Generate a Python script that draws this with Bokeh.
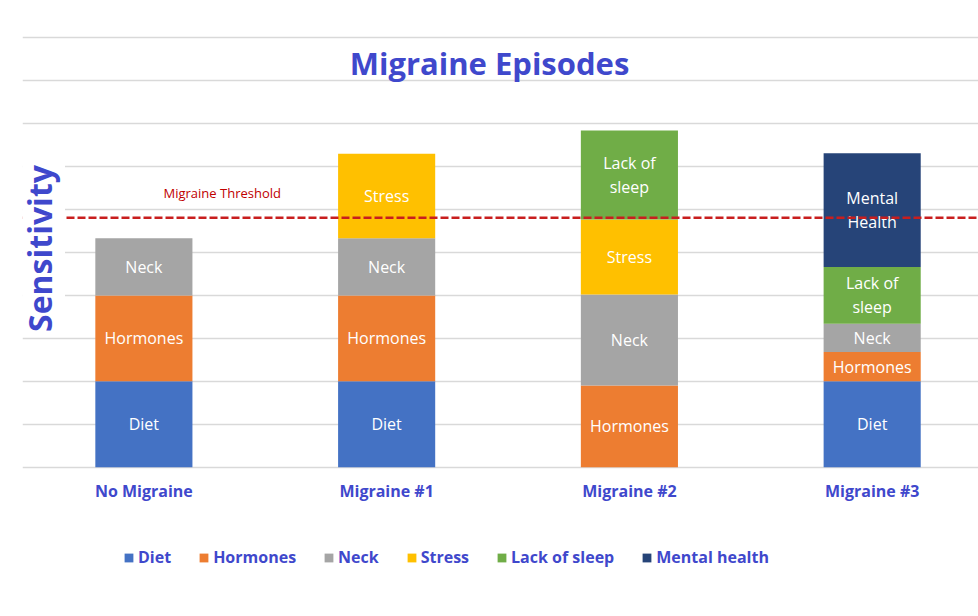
from math import pi
from bokeh.plotting import figure
from bokeh.models import Range1d, FixedTicker, Span, Label, ColumnDataSource
from bokeh.core.properties import value
from bokeh.embed import file_html
from bokeh.resources import INLINE

# ---- data ----
categories = ["No Migraine", "Migraine #1", "Migraine #2", "Migraine #3"]
series = ["Diet", "Hormones", "Neck", "Stress", "Lack of sleep", "Mental health"]
diet = [2.0, 2.0, 0.0, 2.0]
hormones = [2.0, 2.0, 1.9, 0.68]
neck = [1.33, 1.33, 2.12, 0.66]
stress = [0.0, 1.97, 1.75, 0.0]
lack_of_sleep = [0.0, 0.0, 2.07, 1.32]
mental_health = [0.0, 0.0, 0.0, 2.65]
segment_labels = ["Diet", "Hormones", "Neck", "Stress", "Lack of\nsleep", "Mental\nHealth"]
threshold = 5.81
y_ticks = [0, 1, 2, 3, 4, 5, 6, 7, 8, 9, 10]

colors = ["#4472C4", "#ED7D31", "#A5A5A5", "#FFC000", "#70AD47", "#264478"]
BLUE = "#3F48CC"
FONT = "Open Sans"

xs = list(range(len(categories)))
rows = [diet, hormones, neck, stress, lack_of_sleep, mental_health]
src = ColumnDataSource(dict(x=xs, **{s: r for s, r in zip(series, rows)}))

p = figure(width=978, height=616, output_backend="svg", toolbar_location=None,
           x_range=Range1d(-0.5, 3.438), y_range=Range1d(-3.476, 10.866),
           min_border_left=22, min_border_right=0, min_border_top=0, min_border_bottom=0)
p.outline_line_color = None
p.background_fill_color = "white"

p.yaxis.visible = False
p.yaxis.ticker = FixedTicker(ticks=y_ticks)
p.ygrid.grid_line_color = "#D9D9D9"
p.ygrid.grid_line_width = 1.6
p.xgrid.grid_line_color = None

ax = p.xaxis[0]
ax.fixed_location = 0
ax.ticker = FixedTicker(ticks=xs)
ax.major_label_overrides = {i: c for i, c in enumerate(categories)}
ax.axis_line_color = None
ax.major_tick_line_color = None
ax.minor_tick_line_color = None
ax.major_label_standoff = 7
ax.major_label_text_font = FONT
ax.major_label_text_font_style = "bold"
ax.major_label_text_font_size = "16px"
ax.major_label_text_color = BLUE

p.vbar_stack(series, x="x", width=0.4, source=src, fill_color=colors,
             line_color=None, legend_label=series)

# segment labels
lx, ly, lt = [], [], []
for i in xs:
    base = 0.0
    for s, vals in enumerate(rows):
        v = vals[i]
        if v > 0:
            lx.append(i)
            ly.append(base + v / 2)
            lt.append(segment_labels[s])
        base += v
p.text(x=lx, y=ly, text=lt, text_font=value(FONT), text_font_size="16px",
       text_color="#FFFFFF", text_align="center", text_baseline="middle",
       text_line_height=1.1)

# threshold
p.add_layout(Span(location=threshold, dimension="width", line_color="#C81E1E",
                  line_width=2.5, line_dash="8 3"))
p.add_layout(Label(x=141, y=424, x_units="screen", y_units="screen",
                   text="Migraine Threshold", text_font=FONT, text_font_size="13px",
                   text_color="#C00000", text_align="left", text_baseline="middle"))

# title
p.add_layout(Label(x=467, y=554, x_units="screen", y_units="screen",
                   text="Migraine Episodes", text_font=FONT, text_font_size="31px",
                   text_font_style="bold", text_color=BLUE,
                   text_align="center", text_baseline="middle"))

# y axis title
p.add_layout(Label(x=17, y=368, x_units="screen", y_units="screen", angle=pi / 2,
                   text="Sensitivity", text_font=FONT, text_font_size="32px",
                   text_font_style="bold", text_color=BLUE,
                   text_align="center", text_baseline="middle",
                   background_fill_color="white", padding=4))

lg = p.legend[0]
lg.orientation = "horizontal"
lg.location = (101, 48)
lg.glyph_width = 11
lg.glyph_height = 11
lg.label_height = 11
lg.label_standoff = 4
lg.spacing = 27
lg.padding = 0
lg.margin = 0
lg.border_line_color = None
lg.background_fill_alpha = 0
lg.label_text_font = FONT
lg.label_text_font_style = "bold"
lg.label_text_font_size = "16px"
lg.label_text_color = BLUE

open("out.html", "w").write(file_html(p, INLINE))
